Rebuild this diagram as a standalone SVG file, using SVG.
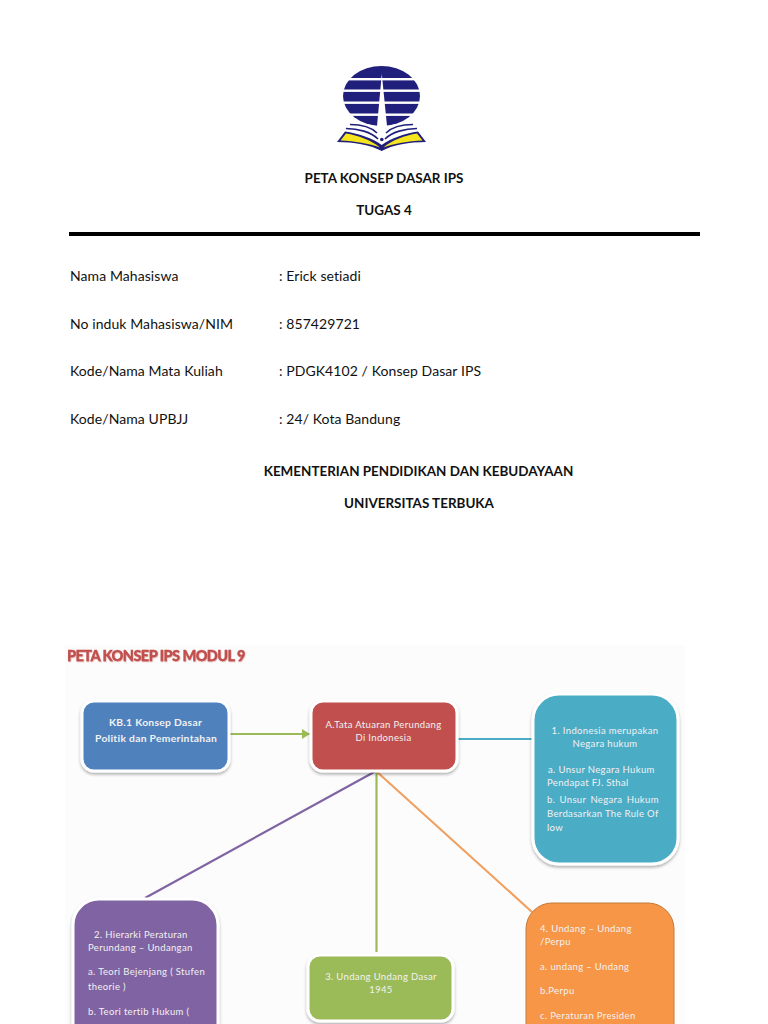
<svg xmlns="http://www.w3.org/2000/svg" width="768" height="1024" viewBox="0 0 768 1024">
<defs>
<filter id="sh" x="-10%" y="-10%" width="120%" height="125%"><feDropShadow dx="0" dy="2" stdDeviation="1.5" flood-color="#000" flood-opacity="0.3"/></filter>
<filter id="ts" x="-5%" y="-30%" width="110%" height="170%"><feDropShadow dx="0.500" dy="0.800" stdDeviation="0.700" flood-color="#c0504d" flood-opacity="0.500"/></filter>
<marker id="arr" markerUnits="userSpaceOnUse" markerWidth="10" markerHeight="10" refX="8" refY="5" orient="auto"><path d="M0,0 L8,5 L0,10 Z" fill="#9bbb59"/></marker>
</defs>
<style>
text{font-family:Lato,"Liberation Sans",sans-serif}
.h{font-size:13.450px;font-weight:700;fill:#111;text-anchor:middle}
.b{font-size:14px;fill:#111;letter-spacing:.08px}
.w{fill:#f2f2f2;font-size:9.500px;letter-spacing:.35px}
.k{font-size:10.300px;font-weight:700;letter-spacing:.3px}
.m{text-anchor:middle}
.box{stroke:#fff;stroke-width:3;filter:url(#sh)}
.c{fill:none;stroke-width:2.200}
</style>
<rect width="768" height="1024" fill="#fff"/>
<rect x="65" y="645" width="620" height="379" fill="#fcfcfc"/>

<g id="logo">
<ellipse cx="381.500" cy="96" rx="38.500" ry="30" fill="#211f7c"/>
<g fill="#fff">
<rect x="340" y="78" width="83" height="2.400"/>
<rect x="340" y="89.500" width="83" height="2.400"/>
<rect x="340" y="101.500" width="83" height="2.400"/>
<rect x="340" y="113.500" width="83" height="2.400"/>
<path d="M381.800,74 L387,126 L387,136 L384,143 L380,143 L377,136 L377,126 Z"/>
<path d="M345,120 L377,126 L381,140 L386,126 L418,120 L420,130 L381,145 L343,130 Z"/>
</g>
<g fill="none" stroke="#211f7c">
<path d="M350,124.500 C360,124.500 371,127 377,133" stroke-width="1.600"/>
<path d="M413,124.500 C403,124.500 392,127 386,133" stroke-width="1.600"/>
<path d="M346,128.500 C358,128.500 371,132 378,139" stroke-width="1.600"/>
<path d="M417,128.500 C405,128.500 392,132 385,139" stroke-width="1.600"/>
</g>
<path d="M337,142 L345,131.500 C358,133.500 373,138 381.700,145 C391,138 405,133.500 418,131.500 L426,142 C410,142 392,145 381.700,151 C371,145 353,142 337,142 Z" fill="#211f7c"/>
<path d="M340.500,140.500 L346,133.500 C358,135.500 371,140 380,147.500 C369,143.500 355,141 340.500,140.500 Z" fill="#f4e51e"/>
<path d="M422.500,140.500 L417,133.500 C405,135.500 392,140 383.500,147.500 C394,143.500 408,141 422.500,140.500 Z" fill="#f4e51e"/>
<circle cx="381.800" cy="139.500" r="1.800" fill="#211f7c"/>
</g>

<text class="h" x="384" y="183">PETA KONSEP DASAR IPS</text>
<text class="h" x="384" y="215">TUGAS 4</text>
<rect x="69" y="232" width="631" height="4" fill="#000"/>

<text class="b" x="70" y="281">Nama Mahasiswa</text>
<text class="b" x="279" y="281">: Erick setiadi</text>
<text class="b" x="70" y="329">No induk Mahasiswa/NIM</text>
<text class="b" x="279" y="329">: 857429721</text>
<text class="b" x="70" y="376">Kode/Nama Mata Kuliah</text>
<text class="b" x="279" y="376">: PDGK4102 / Konsep Dasar IPS</text>
<text class="b" x="70" y="424">Kode/Nama UPBJJ</text>
<text class="b" x="279" y="424">: 24/ Kota Bandung</text>
<text class="h" x="418.500" y="476">KEMENTERIAN PENDIDIKAN DAN KEBUDAYAAN</text>
<text class="h" x="419" y="508">UNIVERSITAS TERBUKA</text>

<text x="67" y="661" font-size="14.500" font-weight="900" letter-spacing="-.55" fill="#c0504d" stroke="#c0504d" stroke-width=".3" filter="url(#ts)">PETA KONSEP IPS MODUL 9</text>

<g id="connectors">
<path class="c" d="M230,734 L310,734" stroke="#9bbb59" stroke-width="2.800" marker-end="url(#arr)"/>
<path class="c" d="M458,739 L532,739" stroke="#4bacc6"/>
<path class="c" d="M376,771 L145,898" stroke="#8064a2"/>
<path class="c" d="M376.500,771 L376.500,952" stroke="#9bbb59" stroke-width="2.800"/>
<path class="c" d="M376,771 L532,912" stroke="#f0a060"/>
</g>

<g id="node-kb1">
<rect class="box" x="82" y="701" width="147" height="70" rx="12" fill="#4f81bd"/>
<text class="w m k" x="155.500" y="726">KB.1 Konsep Dasar</text>
<text class="w m k" x="156" y="742">Politik dan Pemerintahan</text>
</g>
<g id="node-a">
<rect class="box" x="311" y="701" width="146" height="70" rx="12" fill="#c0504d"/>
<text class="w m" x="383.500" y="728">A.Tata Atuaran Perundang</text>
<text class="w m" x="383.500" y="741">Di Indonesia</text>
</g>
<g id="node-1">
<rect class="box" x="533" y="694" width="145" height="170" rx="26" fill="#4bacc6"/>
<text class="w m" x="605" y="734">1. Indonesia merupakan</text>
<text class="w m" x="605" y="747">Negara hukum</text>
<text class="w" x="548" y="773">a. Unsur Negara Hukum</text>
<text class="w" x="547" y="786">Pendapat FJ. Sthal</text>
<text class="w" x="547" y="803" word-spacing="1.500">b. Unsur Negara Hukum</text>
<text class="w" x="547" y="817">Berdasarkan The Rule Of</text>
<text class="w" x="547" y="831">low</text>
</g>
<g id="node-2">
<rect class="box" x="73" y="899" width="145" height="150" rx="26" fill="#8064a2"/>
<text class="w" x="94" y="938">2. Hierarki Peraturan</text>
<text class="w" x="88" y="951">Perundang – Undangan</text>
<text class="w" x="88" y="975">a. Teori Bejenjang ( Stufen</text>
<text class="w" x="88" y="990">theorie )</text>
<text class="w" x="88" y="1015">b. Teori tertib Hukum (</text>
</g>
<g id="node-3">
<rect class="box" x="308" y="955" width="145" height="66" rx="12" fill="#9bbb59"/>
<text class="w m" x="381" y="980">3. Undang Undang Dasar</text>
<text class="w m" x="381" y="993">1945</text>
</g>
<g id="node-4">
<rect x="526" y="903" width="148" height="150" rx="26" fill="#f79646" stroke="#c07a3a" stroke-width="1"/>
<text class="w" x="540" y="932">4. Undang – Undang</text>
<text class="w" x="540" y="945">/Perpu</text>
<text class="w" x="540" y="970">a. undang – Undang</text>
<text class="w" x="540" y="994">b.Perpu</text>
<text class="w" x="540" y="1019">c. Peraturan Presiden</text>
</g>
</svg>
